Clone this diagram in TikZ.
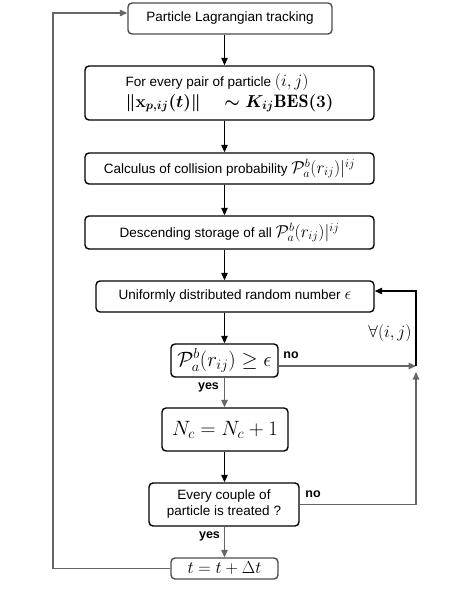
\documentclass[tikz,border=0pt]{standalone}
\usepackage{fontspec}
\setsansfont{Liberation Sans}
\usepackage{amsmath}
\usetikzlibrary{arrows.meta, calc}

\newcommand{\formula}[1]{{\fontsize{18}{20}\selectfont$#1$}}
\newcommand{\bigformula}[1]{{\fontsize{20}{22}\selectfont$#1$}}

\begin{document}
\begin{tikzpicture}[
        x=1pt, y=-1pt,
        box/.style={
            draw=black,
            line width=1.4pt,
            rounded corners=4pt,
            inner sep=0pt,
            align=center,
            font=\sffamily\fontsize{13.5}{16}\selectfont
        },
        arr/.style={-{Triangle[length=7.5pt, width=6.5pt]}, line width=1.2pt, black},
        lbl/.style={font=\sffamily\bfseries\fontsize{12.5}{14}\selectfont}
    ]
        \useasboundingbox (0,0) rectangle (474,592);
        % Tracking
        \node[box, draw=black!70, minimum width=204, minimum height=31] (track) at (230,18.5) {Particle Lagrangian tracking};
        % Pairs
        \node[box, align=left, minimum width=289, minimum height=54] (pair) at (229.5,93)
            {For every pair of particle \formula{(i,j)}\\[2pt]
             {\boldmath\formula{\|\mathbf{x}_{p,ij}(t)\|\quad\sim K_{ij}\mathrm{BES}(3)}}};
        % Probability
        \node[box, minimum width=289, minimum height=31] (proba) at (229.5,168.5)
            {Calculus of collision probability \formula{\mathcal{P}^b_a(r_{ij})|^{ij}}};
        % Storage
        \node[box, minimum width=289, minimum height=33] (store) at (229.5,232.5)
            {Descending storage of all \formula{\mathcal{P}^b_a(r_{ij})|^{ij}}};
        % Random number
        \node[box, minimum width=278, minimum height=31] (rand) at (235,296.5)
            {Uniformly distributed random number \formula{\epsilon}};
        % Test
        \node[box, minimum width=107, minimum height=33] (test) at (224.5,360.5)
            {\bigformula{\mathcal{P}^b_a(r_{ij})\geq\epsilon}};
        % Counter
        \node[box, minimum width=126, minimum height=43] (count) at (225,429.5)
            {\bigformula{N_c=N_c+1}};
        % All pairs done?
        \node[box, minimum width=150, minimum height=43] (done) at (224,504.5)
            {Every couple of\\particle is treated ?};
        % Time step
        \node[box, draw=black!70, minimum width=107, minimum height=21] (tstep) at (224.5,568.5)
            {\formula{t=t+\Delta t}};
        % Loop points
        \coordinate (join) at (416,366);
        \coordinate (joinb) at (416,372);
        \coordinate (top) at (416,291);
        \coordinate (left) at (53,13);
        % Labels
        \node[lbl] (no1) at (291,355) {no};
        \node[lbl] (yes1) at (208.5,387) {yes};
        \node[lbl] (no2) at (313,494) {no};
        \node[lbl] (yes2) at (209.5,536) {yes};
        \node (all) at (390,333) {\formula{\forall(i,j)}};
        % Arrows
        \draw[arr] (track.south -| test) -- (pair.north -| test);
        \draw[arr] (pair.south -| test) -- (proba.north -| test);
        \draw[arr] (proba.south -| test) -- (store.north -| test);
        \draw[arr] (store.south -| test) -- (rand.north -| test);
        \draw[arr] (rand.south -| test) -- (test.north);
        \draw[arr, black!60] (test.south) -- (count.north -| test);
        \draw[arr] (count.south -| test) -- (done.north -| test);
        \draw[arr, black!60] (done.south -| test) -- (tstep.north -| test);
        \draw[arr, black!60] (test.east |- join) -- (join);
        \draw[arr, black!60] (done.east) -| (joinb);
        \draw[arr] (join) -- (top) -- (rand.east |- top);
        \draw[arr, black!60] (tstep.west) -| (left) -- (track.west |- left);
    \end{tikzpicture}
\end{document}
